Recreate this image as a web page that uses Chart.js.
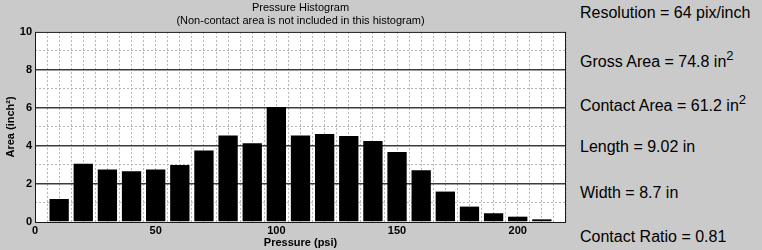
<!DOCTYPE html>
<html>
<head>
<meta charset="utf-8">
<script src="https://cdn.jsdelivr.net/npm/chart.js@4/dist/chart.umd.min.js"></script>
<style>
  body { margin: 0; background: #cacaca; }
  #wrap { position: relative; width: 762px; height: 250px; background: #cacaca; font-family: "Liberation Sans", Arial, sans-serif; }
  #chartBox { position: absolute; left: 0; top: 0; width: 572px; height: 250px; }
  .stat { position: absolute; left: 580px; font-size: 16px; color: #000; white-space: nowrap; line-height: 18px; }
  .stat sup { font-size: 13px; line-height: 0; vertical-align: 7px; }
</style>
</head>
<body>
<div id="wrap">
  <div id="chartBox"><canvas id="histChart" width="572" height="250"></canvas></div>
  <div class="stat" style="top:4px">Resolution = 64 pix/inch</div>
  <div class="stat" style="top:53px">Gross Area = 74.8 in<sup>2</sup></div>
  <div class="stat" style="top:97px">Contact Area = 61.2 in<sup>2</sup></div>
  <div class="stat" style="top:138px">Length = 9.02 in</div>
  <div class="stat" style="top:184px">Width = 8.7 in</div>
  <div class="stat" style="top:228px">Contact Ratio = 0.81</div>
</div>
<script>
// Bin centers (psi) and area per bin (inch^2)
const pressureBins = [10, 20, 30, 40, 50, 60, 70, 80, 90, 100, 110, 120, 130, 140, 150, 160, 170, 180, 190, 200, 210]
const areaValues = [1.21, 3.07, 2.76, 2.67, 2.76, 3.0, 3.76, 4.55, 4.14, 6.05, 4.55, 4.63, 4.53, 4.26, 3.68, 2.72, 1.6, 0.81, 0.46, 0.28, 0.14]
const xTickLabels = [0, 50, 100, 150, 200]
const yTickLabels = [0, 2, 4, 6, 8, 10]

const fontFamily = "'Liberation Sans', Arial, sans-serif"

// white plot background + dark frame around it
const plotFrame = {
  id: "plotFrame",
  beforeDraw(chart) {
    const a = chart.chartArea
    const ctx = chart.ctx
    ctx.save()
    ctx.fillStyle = "#ffffff"
    ctx.fillRect(a.left, a.top, a.right - a.left, a.bottom - a.top)
    ctx.restore()
  },
  afterDraw(chart) {
    const a = chart.chartArea
    const ctx = chart.ctx
    ctx.save()
    ctx.strokeStyle = "#1a1a1a"
    ctx.lineWidth = 1
    ctx.strokeRect(a.left + 0.5, a.top + 0.5, a.right - a.left - 1, a.bottom - a.top)
    ctx.restore()
  },
}

const ctx = document.getElementById("histChart").getContext("2d")
new Chart(ctx, {
  type: "bar",
  data: {
    datasets: [
      {
        label: "Area",
        data: pressureBins.map((p, i) => ({ x: p, y: areaValues[i] })),
        backgroundColor: "#000000",
        borderWidth: 0,
        barPercentage: 1.0,
        categoryPercentage: 0.8,
      },
    ],
  },
  options: {
    responsive: false,
    devicePixelRatio: 1,
    animation: false,
    layout: { padding: { left: 0, right: 6, top: 0, bottom: 0 } },
    plugins: {
      legend: { display: false },
      tooltip: { enabled: false },
      title: {
        display: true,
        fullSize: false,
        text: "Pressure Histogram",
        color: "#000",
        font: { family: fontFamily, size: 11, weight: "normal" },
        padding: { top: 1, bottom: 0 },
      },
      subtitle: {
        display: true,
        fullSize: false,
        text: "(Non-contact area is not included in this histogram)",
        color: "#000",
        font: { family: fontFamily, size: 11, weight: "normal" },
        padding: { top: 0, bottom: 4.5 },
      },
    },
    scales: {
      x: {
        type: "linear",
        min: 0,
        max: 220,
        offset: false,
        grid: { display: false, offset: false, drawTicks: false },
        border: { display: false },
        ticks: {
          stepSize: 50,
          autoSkip: false,
          padding: 2,
          color: "#000",
          font: { family: fontFamily, size: 11, weight: "bold" },
          maxRotation: 0,
          callback: (v) => (xTickLabels.includes(v) ? String(v) : ""),
        },
        title: {
          display: true,
          text: "Pressure (psi)",
          color: "#000",
          font: { family: fontFamily, size: 11, weight: "bold" },
          padding: { top: 0, bottom: 0 },
        },
        afterFit: (scale) => {
          scale.height = 28
        },
      },
      // dotted vertical grid every 5 psi
      xMinor: {
        type: "linear",
        position: "bottom",
        min: 0,
        max: 220,
        offset: false,
        grid: {
          offset: false,
          drawTicks: false,
          color: "#b4b4b4",
          lineWidth: 1,
        },
        border: { display: false, dash: [2, 2] },
        ticks: { display: false, stepSize: 5, autoSkip: false },
        afterFit: (scale) => {
          scale.height = 0
        },
      },
      y: {
        position: "left",
        min: 0,
        max: 10,
        grid: {
          drawTicks: false,
          color: (c) => (c.tick && c.tick.value > 0 && c.tick.value < 10 ? "#3c3c3c" : "rgba(0,0,0,0)"),
          lineWidth: 1.5,
        },
        border: { display: false },
        ticks: {
          stepSize: 2,
          padding: 3,
          color: "#000",
          font: { family: fontFamily, size: 11, weight: "bold" },
          callback: (v) => (yTickLabels.includes(v) ? String(v) : ""),
        },
        title: {
          display: true,
          text: "Area (inch²)",
          color: "#000",
          font: { family: fontFamily, size: 11, weight: "bold" },
          padding: { top: 4, bottom: 0 },
        },
        afterFit: (scale) => {
          scale.width = 35
        },
      },
      yMinor: {
        position: "right",
        min: 0,
        max: 10,
        grid: {
          drawTicks: false,
          color: (c) => (c.tick && c.tick.value % 2 === 1 ? "#b4b4b4" : "rgba(0,0,0,0)"),
          lineWidth: 1,
        },
        border: { display: false, dash: [2, 2] },
        ticks: { display: false, stepSize: 1 },
        afterFit: (scale) => {
          scale.width = 0
        },
      },
    },
  },
  plugins: [plotFrame],
})
</script>
</body>
</html>
